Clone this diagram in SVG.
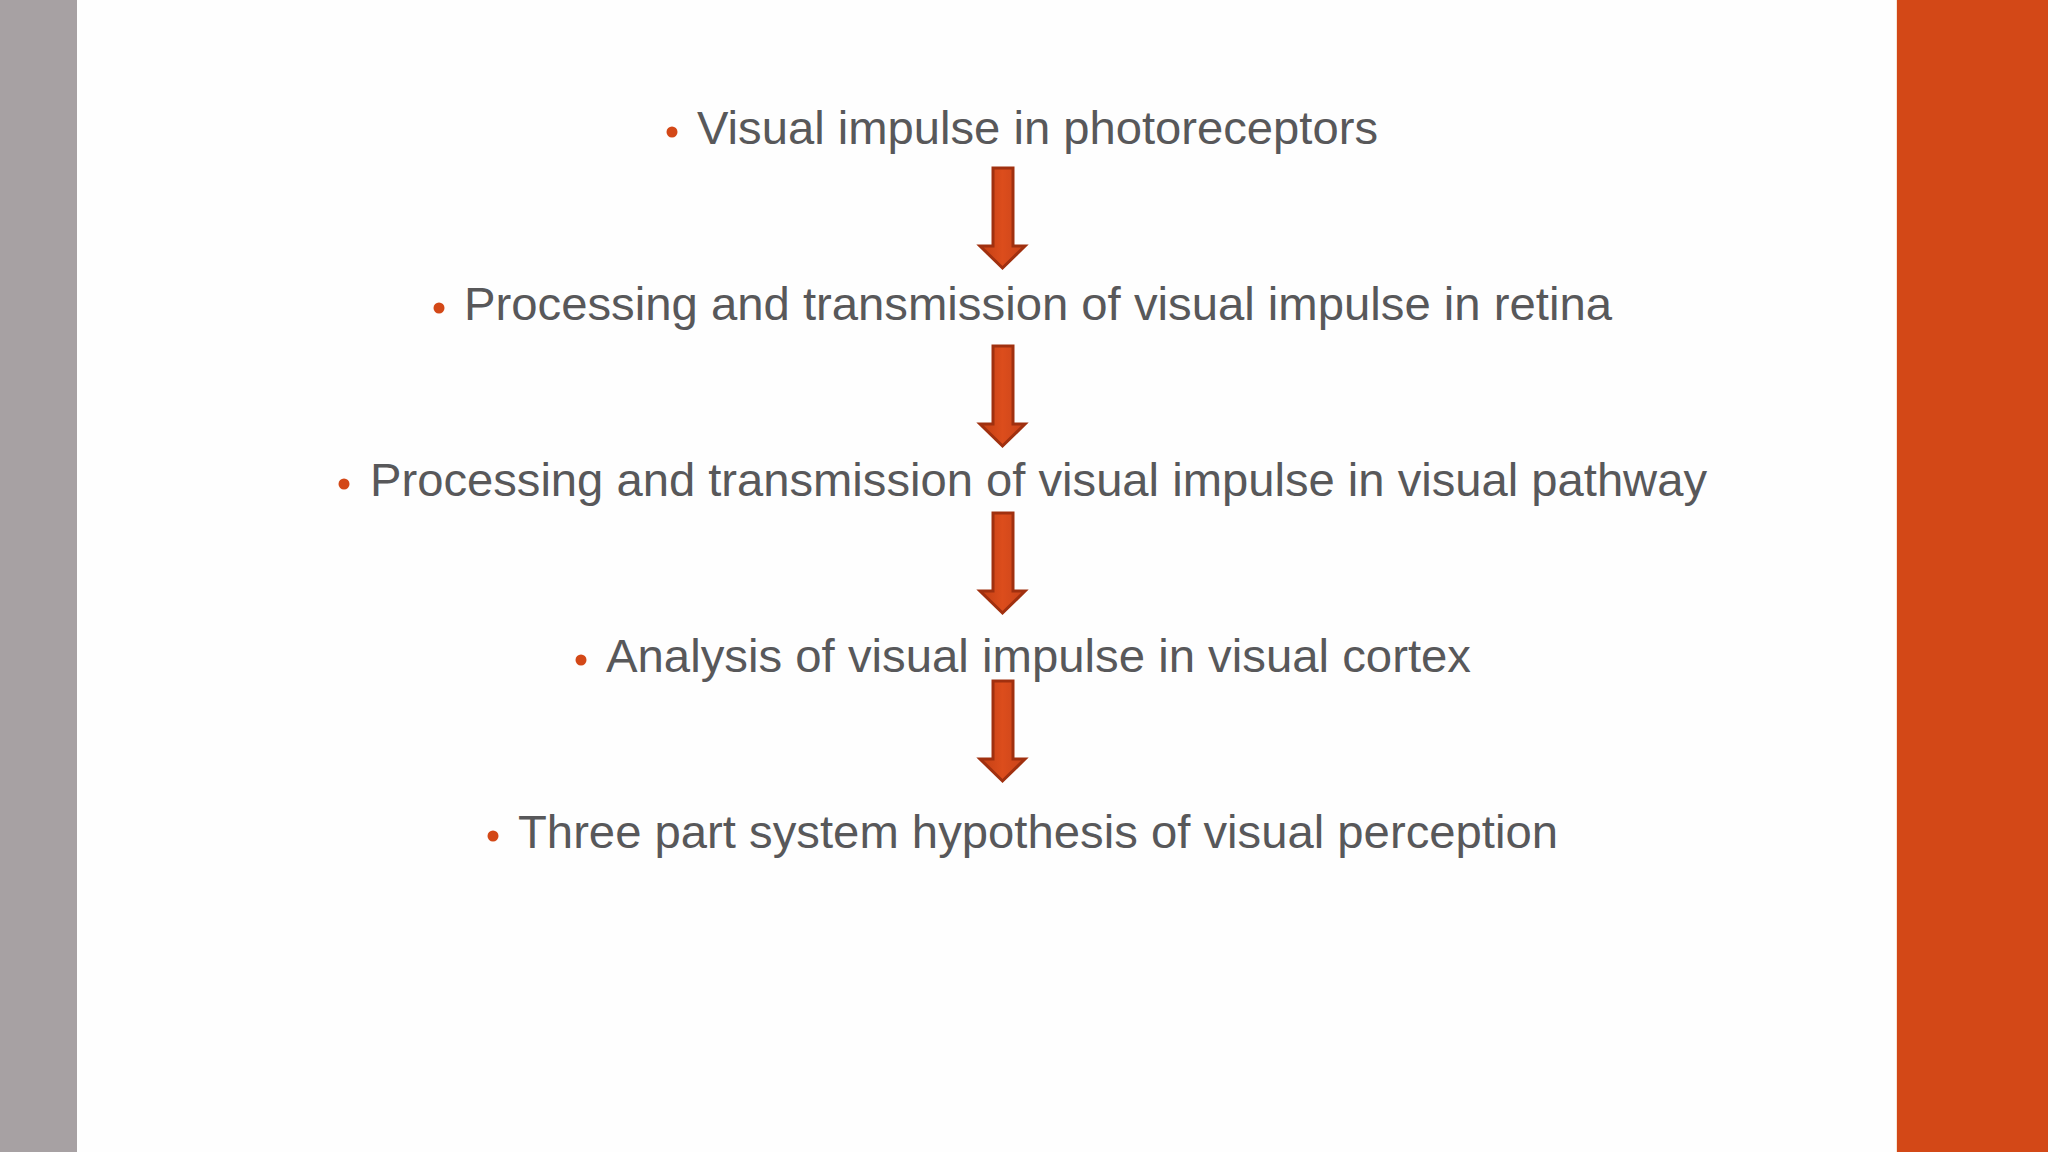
<svg xmlns="http://www.w3.org/2000/svg" width="2048" height="1152" viewBox="0 0 2048 1152">
<defs>
<style>
.t{font-family:"Liberation Sans",Arial,sans-serif;font-size:47px;fill:#58585a}
.b{fill:#d34817}
.arr{fill:url(#ag);stroke:#a0300f;stroke-width:3;stroke-linejoin:miter}
</style>
<linearGradient id="ag" x1="0" y1="0" x2="1" y2="0">
<stop offset="0" stop-color="#c23f14"/>
<stop offset="0.5" stop-color="#dc4d1c"/>
<stop offset="1" stop-color="#c8431a"/>
</linearGradient>
</defs>
<rect x="0" y="0" width="2048" height="1152" fill="#fefefe"/>
<rect x="0" y="0" width="77" height="1152" fill="#a7a1a3"/>
<rect x="1896" y="0" width="1" height="1152" fill="#f6e6d6"/>
<rect x="1897" y="0" width="151" height="1152" fill="#d34817"/>

<g id="node1">
<circle class="b" cx="672" cy="132" r="5.5"/>
<text class="t" x="697" y="144" textLength="681" lengthAdjust="spacingAndGlyphs">Visual impulse in photoreceptors</text>
</g>
<g id="node2">
<circle class="b" cx="439" cy="308" r="5.5"/>
<text class="t" x="464" y="320" textLength="1148" lengthAdjust="spacingAndGlyphs">Processing and transmission of visual impulse in retina</text>
</g>
<g id="node3">
<circle class="b" cx="344" cy="484" r="5.5"/>
<text class="t" x="370" y="496" textLength="1337" lengthAdjust="spacingAndGlyphs">Processing and transmission of visual impulse in visual pathway</text>
</g>
<g id="node4">
<circle class="b" cx="581" cy="660" r="5.5"/>
<text class="t" x="606" y="672" textLength="865" lengthAdjust="spacingAndGlyphs">Analysis of visual impulse in visual cortex</text>
</g>
<g id="node5">
<circle class="b" cx="493" cy="836" r="5.5"/>
<text class="t" x="518" y="848" textLength="1040" lengthAdjust="spacingAndGlyphs">Three part system hypothesis of visual perception</text>
</g>

<g id="connectors">
<path class="arr" d="M993,168 H1013 V246 H1025 L1002.5,268 L980,246 H993 Z"/>
<path class="arr" d="M993,346 H1013 V424 H1025 L1002.5,446 L980,424 H993 Z"/>
<path class="arr" d="M993,513 H1013 V591 H1025 L1002.5,613 L980,591 H993 Z"/>
<path class="arr" d="M993,681 H1013 V759 H1025 L1002.5,781 L980,759 H993 Z"/>
</g>
</svg>
